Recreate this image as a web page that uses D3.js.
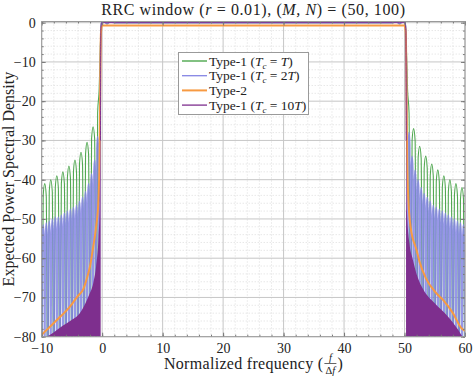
<!DOCTYPE html>
<html lang="en">
<head>
<meta charset="utf-8">
<title>RRC window</title>
<script src="https://d3js.org/d3.v7.min.js"></script>
<style>
  body { margin: 0; background: #fff; }
  svg { font-family: "Liberation Serif", "DejaVu Serif", serif; }
  .grid-major line { stroke: #c6c6c6; stroke-width: 1; }
  .grid-minor line { stroke: #d4d4d4; stroke-width: 0.8; stroke-dasharray: 1, 2; }
  .axis path { display: none; }
  .axis line { stroke: #777; }
</style>
</head>
<body>
<svg id="chart" width="474" height="378"></svg>
<script>
// Ticks
const xTicks = [-10, 0, 10, 20, 30, 40, 50, 60];
const yTicks = [0, -10, -20, -30, -40, -50, -60, -70, -80];
const nullDb = -100; // depth of a spectral null (below the axis floor)

// Type-1 (Tc = T): sidelobes of width 1
const t1LeftCenter = [-9.5, -8.5, -7.5, -6.5, -5.5, -4.5, -3.5, -2.5, -1.5];
const t1LeftPeak = [-41, -40, -39, -38, -36.5, -35, -33, -30.5, -26.5];
const t1LeftShoulder = [-44, -43, -42, -41, -39.5, -38, -36, -33.5, -29.5];
const t1BandFreq = [-0.75, -0.5, -0.3, -0.2, -0.1, 0.3, 0.8, 1.3, 2, 48, 48.7, 49.2, 49.7, 50.1, 50.2, 50.3, 50.5, 50.75];
const t1BandDb = [-23, -17, -6, -1.5, 0.2, 0.4, -0.3, 0.2, 0, 0, 0.2, -0.3, 0.4, 0.2, -1.5, -6, -17, -23];
const t1RightCenter = [51.5, 52.5, 53.5, 54.5, 55.5, 56.5, 57.5, 58.5, 59.5];
const t1RightPeak = [-27, -31.5, -34, -36, -37.5, -39, -40, -41, -42];
const t1RightShoulder = [-30, -34.5, -37, -39, -40.5, -42, -43, -44, -45];

// Type-1 (Tc = 2T): sidelobes of width 0.5
const t2LeftCenter = [-9.75, -9.25, -8.75, -8.25, -7.75, -7.25, -6.75, -6.25, -5.75, -5.25,
  -4.75, -4.25, -3.75, -3.25, -2.75, -2.25, -1.75, -1.25, -0.75];
const t2LeftPeak = [-51.5, -51, -50.5, -50, -49.5, -49.5, -49, -48.5, -48, -47.5,
  -47, -46.5, -45.5, -44.5, -43, -41, -38.5, -35, -29];
const t2LeftShoulder = [-54.5, -54, -53.5, -53, -52.5, -52.5, -52, -51.5, -51, -50.5,
  -50, -49.5, -48.5, -47.5, -46, -44, -41.5, -38, -32];
const t2BandFreq = [-0.4, -0.3, -0.2, -0.1, 0.3, 0.8, 1.3, 2, 48, 48.7, 49.2, 49.7, 50.1, 50.2, 50.3, 50.4];
const t2BandDb = [-22, -9, -2, 0.2, 0.3, -0.3, 0.2, 0, 0, 0.2, -0.3, 0.3, 0.2, -2, -9, -22];
const t2RightCenter = [50.75, 51.25, 51.75, 52.25, 52.75, 53.25, 53.75, 54.25, 54.75, 55.25,
  55.75, 56.25, 56.75, 57.25, 57.75, 58.25, 58.75, 59.25, 59.75];
const t2RightPeak = [-28, -34, -37.5, -40, -42, -43.5, -44.5, -45.5, -46.5, -47,
  -47.5, -48, -48.5, -49, -49.5, -50, -50.5, -51, -51.5];
const t2RightShoulder = [-31, -37, -40.5, -43, -45, -46.5, -47.5, -48.5, -49.5, -50,
  -50.5, -51, -51.5, -52, -52.5, -53, -53.5, -54, -54.5];

// Type-2
const tyFreq = [-10, -9, -8, -7, -6, -5, -4.5, -4, -3.1, -2.5, -2, -1.47, -1, -0.6, -0.4, -0.3, -0.2, 0,
  50, 50.2, 50.3, 50.4, 50.6, 51, 52, 52.5, 53.5, 55.3, 56.4, 58, 59.5, 60];
const tyDb = [-79.5, -78, -76.5, -75, -73.5, -71.7, -70.6, -69.6, -67.8, -65, -62, -57, -52, -45, -30, -12, -2.5, -0.7,
  -0.7, -2.5, -12, -30, -44, -52, -58, -61, -65, -69, -70.7, -74, -78, -78.5];

// Type-1 (Tc = 10T): lobes too dense to resolve, drawn by their envelope
const t10LeftFreq = [-10, -8.8, -6.7, -5, -3.7, -3.1, -2.2, -1.47, -1, -0.6, -0.4, -0.3, -0.25];
const t10LeftDb = [-80.5, -79.7, -77.4, -75.7, -74, -72.5, -69.5, -66.3, -62, -54.6, -46, -25, 0];
const t10RightFreq = [50.25, 50.3, 50.4, 50.8, 51.4, 52.2, 53.1, 55, 57.2, 58.9, 59.6, 60];
const t10RightDb = [0, -25, -48, -56, -60.5, -65, -68, -71.5, -74.9, -78.3, -80, -80.5];
const t10BandFreq = [-0.28, -0.22, -0.1, 50.1, 50.22, 50.28];
const t10BandDb = [-30, -2, 0, 0, -2, -30];

const colors = { t1: "#3f9f3f", t2: "#8585e4", ty: "#f79a42", t10: "#7e2f8e" };
const serif = '"Liberation Serif", "DejaVu Serif", serif';

const svg = d3.select("#chart");
const pLeft = 41.7, pRight = 465, pTop = 21.5, pBottom = 336.7;

const x = d3.scaleLinear().domain([-10, 60]).range([pLeft, pRight]);
const y = d3.scaleLinear().domain([-80, 0.3]).range([pBottom, pTop]);

const xMinor = d3.range(-10, 60.01, 2);
const yMinor = d3.range(-80, 0.01, 2);

// Grid
svg.append("g").attr("class", "grid-minor")
  .selectAll("line").data(xMinor.filter(d => !xTicks.includes(d))).join("line")
  .attr("x1", d => x(d)).attr("x2", d => x(d)).attr("y1", pTop).attr("y2", pBottom);
svg.append("g").attr("class", "grid-minor")
  .selectAll("line").data(yMinor.filter(d => !yTicks.includes(d))).join("line")
  .attr("y1", d => y(d)).attr("y2", d => y(d)).attr("x1", pLeft).attr("x2", pRight);
svg.append("g").attr("class", "grid-major")
  .selectAll("line").data(xTicks).join("line")
  .attr("x1", d => x(d)).attr("x2", d => x(d)).attr("y1", pTop).attr("y2", pBottom);
svg.append("g").attr("class", "grid-major")
  .selectAll("line").data(yTicks).join("line")
  .attr("y1", d => y(d)).attr("y2", d => y(d)).attr("x1", pLeft).attr("x2", pRight);

// Curves
svg.append("defs").append("clipPath").attr("id", "clip")
  .append("rect").attr("x", pLeft).attr("y", pTop).attr("width", pRight - pLeft).attr("height", pBottom - pTop);
const plot = svg.append("g").attr("clip-path", "url(#clip)");

const line = d3.line().x(d => x(d[0])).y(d => y(d[1])).curve(d3.curveMonotoneX);
const zip = (a, b) => a.map((v, i) => [v, b[i]]);

// lobes: null at each edge, shoulder half-way, peak at centre
function lobes(center, peak, shoulder, width) {
  const pts = [];
  center.forEach((c, i) => {
    pts.push([c - width / 2, nullDb], [c - width / 4, shoulder[i]], [c, peak[i]], [c + width / 4, shoulder[i]]);
  });
  pts.push([center[center.length - 1] + width / 2, nullDb]);
  return pts;
}

const t1Points = [
  ...lobes(t1LeftCenter, t1LeftPeak, t1LeftShoulder, 1),
  ...zip(t1BandFreq, t1BandDb),
  ...lobes(t1RightCenter, t1RightPeak, t1RightShoulder, 1)
];
const t2Points = [
  ...lobes(t2LeftCenter, t2LeftPeak, t2LeftShoulder, 0.5),
  ...zip(t2BandFreq, t2BandDb),
  ...lobes(t2RightCenter, t2RightPeak, t2RightShoulder, 0.5)
];

plot.append("path").datum(t1Points)
  .attr("d", line).attr("fill", "none").attr("stroke", colors.t1).attr("stroke-width", 1.1).attr("stroke-opacity", 0.9);
plot.append("path").datum(t2Points)
  .attr("d", line).attr("fill", "none").attr("stroke", colors.t2).attr("stroke-width", 1.5).attr("stroke-opacity", 0.85);
plot.append("path").datum(zip(tyFreq, tyDb))
  .attr("d", line).attr("fill", "none").attr("stroke", colors.ty).attr("stroke-width", 2);

const area = d3.area().x(d => x(d[0])).y0(y(-80)).y1(d => y(d[1])).curve(d3.curveMonotoneX);
plot.append("path").datum(zip(t10LeftFreq, t10LeftDb)).attr("d", area).attr("fill", colors.t10);
plot.append("path").datum(zip(t10RightFreq, t10RightDb)).attr("d", area).attr("fill", colors.t10);
plot.append("path").datum(zip(t10BandFreq, t10BandDb))
  .attr("d", line).attr("fill", "none").attr("stroke", colors.t10).attr("stroke-width", 1);

// Axes
function styleAxis(g) {
  g.attr("font-family", serif).attr("font-size", 14);
  g.selectAll("text").attr("fill", "#222").style("font-family", serif);
}
svg.append("g").attr("class", "axis").attr("transform", `translate(0,${pBottom})`)
  .call(d3.axisBottom(x).tickValues(xTicks).tickSize(-4).tickPadding(6).tickFormat(d3.format("d")))
  .call(styleAxis);
svg.append("g").attr("class", "axis").attr("transform", `translate(0,${pTop})`)
  .call(d3.axisTop(x).tickValues(xTicks).tickSize(-4).tickFormat(""));
svg.append("g").attr("class", "axis").attr("transform", `translate(${pLeft},0)`)
  .call(d3.axisLeft(y).tickValues(yTicks).tickSize(-4).tickPadding(6).tickFormat(d3.format("d")))
  .call(styleAxis);
svg.append("g").attr("class", "axis").attr("transform", `translate(${pRight},0)`)
  .call(d3.axisRight(y).tickValues(yTicks).tickSize(-4).tickFormat(""));
// minor ticks
svg.append("g").attr("class", "axis").attr("transform", `translate(0,${pBottom})`)
  .call(d3.axisBottom(x).tickValues(xMinor).tickSize(-2).tickFormat(""));
svg.append("g").attr("class", "axis").attr("transform", `translate(0,${pTop})`)
  .call(d3.axisTop(x).tickValues(xMinor).tickSize(-2).tickFormat(""));
svg.append("g").attr("class", "axis").attr("transform", `translate(${pLeft},0)`)
  .call(d3.axisLeft(y).tickValues(yMinor).tickSize(-2).tickFormat(""));
svg.append("g").attr("class", "axis").attr("transform", `translate(${pRight},0)`)
  .call(d3.axisRight(y).tickValues(yMinor).tickSize(-2).tickFormat(""));

svg.append("rect").attr("x", pLeft).attr("y", pTop).attr("width", pRight - pLeft).attr("height", pBottom - pTop)
  .attr("fill", "none").attr("stroke", "#9a9a9a").attr("stroke-width", 1);

// Title
const title = svg.append("text").attr("x", (pLeft + pRight) / 2).attr("y", 15)
  .attr("text-anchor", "middle").style("font-size", "16px").style("letter-spacing", "0.6px").attr("fill", "#222");
title.append("tspan").text("RRC window (");
title.append("tspan").style("font-style", "italic").text("r");
title.append("tspan").text(" = 0.01), (");
title.append("tspan").style("font-style", "italic").text("M, N");
title.append("tspan").text(") = (50, 100)");

// Y label
svg.append("text").attr("transform", `translate(14,${(pTop + pBottom) / 2}) rotate(-90)`)
  .attr("text-anchor", "middle").style("font-size", "16px").attr("fill", "#222")
  .text("Expected Power Spectral Density");

// X label with fraction f / Δf
const xl = svg.append("g");
const xlText = xl.append("text").attr("y", 369).style("font-size", "16px").style("letter-spacing", "0.3px")
  .attr("fill", "#222").text("Normalized frequency (");
const w1 = xlText.node().getComputedTextLength();
const fracW = 14;
const closeP = xl.append("text").attr("y", 369).style("font-size", "16px").attr("fill", "#222").text(")");
const w2 = closeP.node().getComputedTextLength();
const total = w1 + fracW + w2;
const x0 = (pLeft + pRight) / 2 - total / 2;
xlText.attr("x", x0);
closeP.attr("x", x0 + w1 + fracW);
xl.append("text").attr("x", x0 + w1 + fracW / 2).attr("y", 361).attr("text-anchor", "middle")
  .style("font-size", "10.5px").style("font-style", "italic").attr("fill", "#222").text("f");
xl.append("line").attr("x1", x0 + w1 + 1).attr("x2", x0 + w1 + fracW - 1).attr("y1", 363.5).attr("y2", 363.5)
  .attr("stroke", "#222").attr("stroke-width", 0.7);
const df = xl.append("text").attr("x", x0 + w1 + fracW / 2).attr("y", 373.5).attr("text-anchor", "middle")
  .style("font-size", "10.5px").attr("fill", "#222");
df.append("tspan").text("Δ");
df.append("tspan").style("font-style", "italic").text("f");

// Legend
const legendItems = [
  { key: "t1", label: ["Type-1 (", "T", "c", " = ", "T", ")"] },
  { key: "t2", label: ["Type-1 (", "T", "c", " = 2", "T", ")"] },
  { key: "ty", label: ["Type-2"] },
  { key: "t10", label: ["Type-1 (", "T", "c", " = 10", "T", ")"] }
];
const lg = svg.append("g");
lg.append("rect").attr("x", 178.5).attr("y", 52.5).attr("width", 130).attr("height", 62)
  .attr("fill", "#fff").attr("stroke", "#9a9a9a").attr("stroke-width", 1);
legendItems.forEach((it, i) => {
  const yy = 61 + i * 14.7;
  lg.append("line").attr("x1", 182).attr("x2", 207).attr("y1", yy).attr("y2", yy)
    .attr("stroke", colors[it.key]).attr("stroke-width", it.key === "ty" ? 2 : 1.3);
  const t = lg.append("text").attr("x", 209).attr("y", yy + 4.5).style("font-size", "13.5px").attr("fill", "#222");
  it.label.forEach((s, j) => {
    const sp = t.append("tspan").text(s);
    if (j === 1 || j === 4) sp.style("font-style", "italic");
    if (j === 2) sp.style("font-style", "italic").style("font-size", "9px").attr("dy", 3);
    if (j === 3) sp.attr("dy", -3);
  });
});
</script>
</body>
</html>
